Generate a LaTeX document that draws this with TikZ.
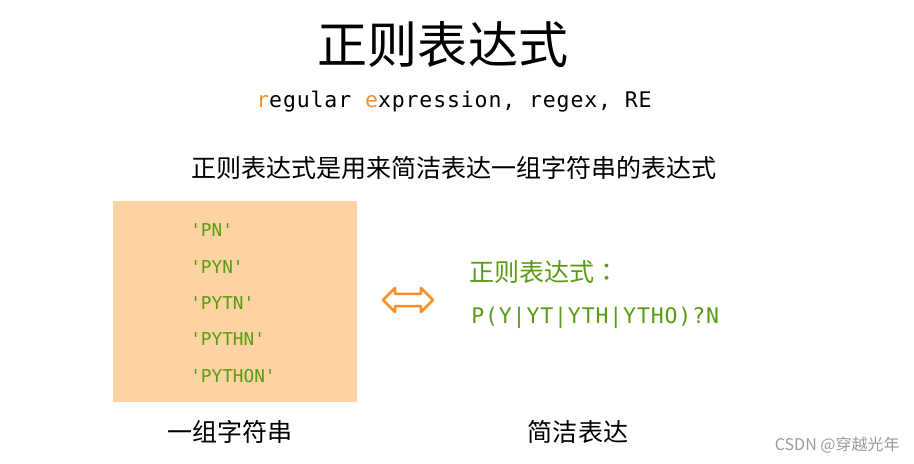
\documentclass[tikz,border=0pt]{standalone}
\usepackage{fontspec}
\usetikzlibrary{shapes.arrows}
\newfontfamily\cjk{Noto Sans CJK SC}
\newfontfamily\cjkc{Noto Sans CJK TC}
\newfontfamily\codefont{DejaVu Sans Mono}
\newfontfamily\codewide[LetterSpace=4]{DejaVu Sans Mono}
\definecolor{boxfill}{RGB}{252,211,161}
\definecolor{codegreen}{RGB}{90,155,20}
\definecolor{hiorange}{RGB}{245,145,40}
\definecolor{markgray}{RGB}{155,155,155}
\tikzset{
  txt/.style={inner sep=0pt},
  cjktxt/.style={txt, font=\cjk\fontsize{17.8pt}{20pt}\selectfont},
  widetxt/.style={txt, font=\codewide\fontsize{15.3pt}{17pt}\selectfont},
  strtxt/.style={txt, anchor=west, text=codegreen, font=\codefont\fontsize{12.6pt}{14pt}\selectfont}
}
\begin{document}
\begin{tikzpicture}[x=0.025cm, y=-0.025cm, line join=round, line cap=round]
\def\sx{190} % left edge of the strings
\useasboundingbox (0,0) rectangle (914,464);
% title lines
\node[txt, font=\cjk\fontsize{35.6pt}{40pt}\selectfont] (title) at (443,45) {正则表达式};
\node[widetxt] (sub) at (454,102)
  {\textcolor{hiorange}{r}egular \textcolor{hiorange}{e}xpression, regex, RE};
\node[cjktxt] (def) at (454,168) {正则表达式是用来简洁表达一组字符串的表达式};
% string set
\fill[boxfill] (113,201) rectangle (357,402);
\foreach \s/\y in {PN/230, PYN/267, PYTN/303, PYTHN/339, PYTHON/376}
  \node[strtxt] (s\s) at (\sx,\y) {'\s'};
% equivalence
\node[double arrow, draw=hiorange, fill=white, line width=1.8pt,
  minimum height=1.25cm, inner xsep=0pt, inner ysep=0.12cm,
  double arrow head extend=0.15cm] (eq) at (408,300) {};
\node[cjktxt, anchor=west, text=codegreen] (relabel) at (469,272) {正则表达式{\cjkc ：}};
\node[widetxt, anchor=west, text=codegreen] (regex) at (471,318) {P(Y|YT|YTH|YTHO)?N};
% captions
\node[cjktxt] (setcap) at (230,432) {一组字符串};
\node[cjktxt] (recap) at (578,432) {简洁表达};
\node[txt, anchor=east, text=markgray, font=\cjk\fontsize{11.4pt}{13pt}\selectfont] (mark) at (900,445) {CSDN @穿越光年};
\end{tikzpicture}
\end{document}
